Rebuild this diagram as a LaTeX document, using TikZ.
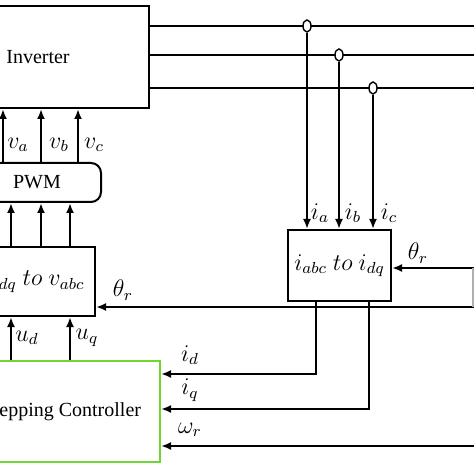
\documentclass[tikz,border=0pt]{standalone}
\usepackage{fontspec}
\setmainfont{Liberation Serif}
\usetikzlibrary{shapes.geometric,arrows.meta}
\definecolor{ctrlgreen}{RGB}{110,215,50}
\definecolor{linkgray}{RGB}{175,175,175}

\begin{document}
\begin{tikzpicture}[x=0.5pt, y=-0.5pt, line width=1pt, >={Latex[length=5pt,width=4pt]}]
    \tikzstyle{block} = [rectangle, draw=black, fill=white, inner sep=0pt, font=\normalsize]
    \tikzstyle{sensor} = [ellipse, draw=black, fill=white, line width=0.7pt, minimum width=4pt, minimum height=6pt, inner sep=0pt]
    \tikzstyle{sig} = [inner sep=1pt, font=\large]

    \useasboundingbox (0,0) rectangle (474,474);
    \clip (0,0) rectangle (474,474);

    % Blocks
    \node [block, minimum width=111pt, minimum height=51pt] (inverter) at (38,57) {Inverter};
    \node [block, rounded corners=5pt, minimum width=64pt, minimum height=19.5pt] (pwm) at (37,182.5) {PWM};
    \node [block, minimum width=60pt, minimum height=34.5pt, font=\large] (dq2abc) at (35,281.5) {$u_{dq}\ to\ v_{abc}$};
    \node [block, draw=ctrlgreen, minimum width=117pt, minimum height=50.5pt] (ctrl) at (43,411.5) {Backstepping Controller};
    \node [block, minimum width=51.5pt, minimum height=35.5pt, font=\large] (abc2dq) at (339.5,265.5) {$i_{abc}\ to\ i_{dq}$};

    % Phase lines
    \coordinate (la) at (474,26);
    \coordinate (lb) at (474,55);
    \coordinate (lc) at (474,88);
    \draw (inverter.east |- la) -- (la);
    \draw (inverter.east |- lb) -- (lb);
    \draw (inverter.east |- lc) -- (lc);

    % Current sensors
    \node [sensor] (sa) at (307,26) {};
    \node [sensor] (sb) at (339,55) {};
    \node [sensor] (sc) at (373,88) {};
    \draw [->] (sa.south) -- (sa.south |- abc2dq.north);
    \draw [->] (sb.south) -- (sb.south |- abc2dq.north);
    \draw [->] (sc.south) -- (sc.south |- abc2dq.north);
    \node [sig] (ia) at (320,213) {$i_a$};
    \node [sig] (ib) at (353,213) {$i_b$};
    \node [sig] (ic) at (389,213) {$i_c$};

    % Switching signals
    \foreach \x in {3,41,78} {
        \coordinate (p) at (\x,0);
        \draw [->] (p |- pwm.north) -- (p |- inverter.south);
    }
    \node [sig] (va) at (18,145) {$v_a$};
    \node [sig] (vb) at (59,145) {$v_b$};
    \node [sig] (vc) at (94,145) {$v_c$};

    \foreach \x in {11,41,70} {
        \coordinate (p) at (\x,0);
        \draw [->] (p |- dq2abc.north) -- (p |- pwm.south);
    }

    % Control voltages
    \foreach \x in {11,70} {
        \coordinate (p) at (\x,0);
        \draw [->] (p |- ctrl.north) -- (p |- dq2abc.south);
    }
    \node [sig] (ud) at (27,338) {$u_d$};
    \node [sig] (uq) at (87,338) {$u_q$};

    % Rotor angle
    \coordinate (tha) at (474,268);
    \coordinate (thb) at (474,307);
    \draw [->] (tha) -- (tha -| abc2dq.east);
    \draw [->] (thb) -- (thb -| dq2abc.east);
    \draw [linkgray, line width=0.8pt] (473,268) -- (473,307);
    \node [sig] (tra) at (418,253) {$\theta_r$};
    \node [sig] (trb) at (123,290) {$\theta_r$};

    % Feedback currents and speed
    \coordinate (idc) at (316,374);
    \coordinate (iqc) at (369,409);
    \coordinate (wr) at (474,446);
    \draw [->] (idc |- abc2dq.south) -- (idc) -- (idc -| ctrl.east);
    \draw [->] (iqc |- abc2dq.south) -- (iqc) -- (iqc -| ctrl.east);
    \draw [->] (wr) -- (wr -| ctrl.east);
    \node [sig] (id) at (190,355) {$i_d$};
    \node [sig] (iq) at (190,390) {$i_q$};
    \node [sig] (wlab) at (190,430) {$\omega_r$};
\end{tikzpicture}
\end{document}
